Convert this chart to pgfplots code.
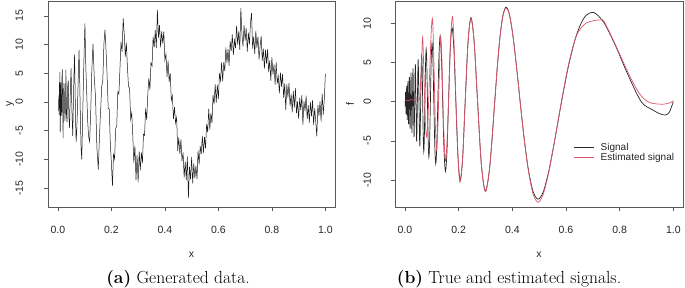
\documentclass[border=0pt]{standalone}
\usepackage{fontspec}
\usepackage{pgfplots}
\pgfplotsset{compat=1.18}
\newfontfamily\arial{Liberation Sans}
\definecolor{rred}{HTML}{DF536B}
\begin{document}
\begin{tikzpicture}
\path[use as bounding box] (0pt,0pt) rectangle (685pt,288pt);
\pgfplotsset{rbox/.style={
  scale only axis, height=206pt,
  axis line style={black!65, line width=0.6pt},
  tick align=outside, tick pos=left,
  major tick length=4.5pt,
  every tick/.style={black!65, line width=0.6pt},
  xmin=-0.037, xmax=1.036,
  xtick={0,0.2,0.4,0.6,0.8,1},
  xticklabels={0.0,0.2,0.4,0.6,0.8,1.0},
  ticklabel style={font=\arial\fontsize{10.5}{12}\selectfont, text=black!85},
  xticklabel style={anchor=north, yshift=-11pt},
  label style={font=\arial\fontsize{10.5}{12}\selectfont, text=black!85},
}}
% ---------------- left panel: generated data
\begin{axis}[rbox, at={(48pt,81pt)}, anchor=south west, width=287pt,
  ymin=-18.3, ymax=17.6,
  ytick={-15,-10,-5,0,5,10,15},
  yticklabels={-15,-10,-5,0,5,10,15},
  yticklabel style={xshift=-17pt, rotate=90, anchor=south},
  xlabel={x}, ylabel={y},
  xlabel style={at={(axis description cs:0.5,-0.23)}, anchor=center},
  ylabel style={at={(axis description cs:-0.132,0.5)}, anchor=center},
]
\addplot[black!90, line width=0.5pt] table[row sep=\\] {
x y\\
0.00244 -1.57\\ 0.00341 1.1\\ 0.00441 -2.25\\ 0.00545 3.4\\ 0.00651 -1.1\\
0.00762 5.2\\ 0.00876 -5.3\\ 0.00994 1.9\\ 0.01115 3.4\\ 0.01242 -2.4\\
0.01373 -1.6\\ 0.01508 4.2\\ 0.01649 5.7\\ 0.01795 -1.2\\ 0.01947 -6.3\\
0.02105 1.5\\ 0.02269 3.3\\ 0.02440 0.9\\ 0.02619 -3.3\\ 0.02805 -1.6\\
0.02999 5.65\\ 0.03202 -2.2\\ 0.03414 -3.5\\ 0.03636 2.6\\ 0.03869 3.7\\
0.04114 -2.7\\ 0.04371 -4.5\\ 0.04642 1.8\\ 0.04927 5.9\\ 0.05227 -1.3\\
0.05545 -5.9\\ 0.05881 2.0\\ 0.06057 5.8\\ 0.06238 8.3\\ 0.06424 2.4\\
0.06616 -3.4\\ 0.06814 -7.0\\ 0.07018 -5.3\\ 0.07230 -2.4\\ 0.07448 1.4\\
0.07673 5.3\\ 0.07906 9.1\\ 0.08147 3.9\\ 0.08397 -2.5\\ 0.08655 -8.0\\
0.08923 -10.0\\ 0.09201 -3.9\\ 0.09490 2.3\\ 0.09789 8.4\\ 0.10101 13.7\\
0.10425 6.4\\ 0.10763 1.7\\ 0.11114 -3.2\\ 0.11481 -6.0\\ 0.11863 -6.9\\
0.12263 -1.8\\ 0.12681 5.5\\ 0.13119 10.1\\ 0.13578 4.5\\ 0.14059 0.9\\
0.14565 -7.8\\ 0.15096 -11.8\\ 0.15656 -4.6\\
0.164 2.8\\ 0.168 3.8\\ 0.172 10.1\\ 0.176 12.6\\ 0.180 9.0\\
0.184 4.6\\ 0.188 -1.1\\ 0.192 -1.2\\ 0.196 -7.3\\ 0.200 -10.6\\
0.204 -14.6\\ 0.208 -9.1\\ 0.212 -9.9\\ 0.216 -4.7\\ 0.220 -4.1\\
0.224 1.8\\ 0.228 1.4\\ 0.232 5.8\\ 0.236 10.5\\ 0.240 8.7\\
0.244 14.6\\ 0.248 11.9\\ 0.252 7.9\\ 0.256 10.3\\ 0.260 6.0\\
0.264 2.7\\ 0.268 2.4\\ 0.272 -3.0\\ 0.276 -1.9\\ 0.280 -5.9\\
0.284 -10.6\\ 0.288 -7.6\\ 0.292 -13.6\\ 0.296 -9.2\\ 0.300 -14.0\\
0.304 -8.6\\ 0.308 -11.9\\ 0.312 -8.8\\ 0.316 -10.7\\ 0.320 -5.6\\
0.324 -5.8\\ 0.328 -1.1\\ 0.332 -3.1\\ 0.336 1.2\\ 0.340 4.2\\
0.344 2.1\\ 0.348 6.8\\ 0.352 6.3\\ 0.356 11.4\\ 0.360 9.5\\
0.364 12.5\\ 0.368 9.4\\ 0.372 16.1\\ 0.376 11.2\\ 0.380 13.4\\
0.384 9.5\\ 0.388 12.3\\ 0.392 10.2\\ 0.396 12.3\\ 0.400 7.3\\
0.404 8.4\\ 0.408 4.4\\ 0.412 7.2\\ 0.416 3.5\\ 0.420 5.0\\
0.424 0.3\\ 0.428 1.1\\ 0.432 -3.0\\ 0.436 -0.9\\ 0.440 -3.7\\
0.444 -2.7\\ 0.448 -8.5\\ 0.452 -6.2\\ 0.456 -9.1\\ 0.460 -6.5\\
0.464 -10.3\\ 0.468 -8.8\\ 0.472 -13.2\\ 0.476 -10.4\\ 0.480 -13.6\\
0.484 -9.5\\ 0.488 -16.7\\ 0.492 -11.3\\ 0.496 -13.5\\ 0.500 -9.6\\
0.504 -14.2\\ 0.508 -10.7\\ 0.512 -13.3\\ 0.516 -11.1\\ 0.520 -13.4\\
0.524 -8.5\\ 0.528 -10.9\\ 0.532 -7.7\\ 0.536 -9.1\\ 0.540 -5.9\\
0.544 -8.9\\ 0.548 -6.1\\ 0.552 -8.1\\ 0.556 -3.8\\ 0.560 -5.3\\
0.564 -1.2\\ 0.568 -4.8\\ 0.572 -1.9\\ 0.576 -3.7\\ 0.580 1.2\\
0.584 -0.4\\ 0.588 3.1\\ 0.592 -0.1\\ 0.596 3.0\\ 0.600 0.5\\
0.604 5.0\\ 0.608 3.7\\ 0.612 6.9\\ 0.616 3.6\\ 0.620 6.9\\
0.624 5.4\\ 0.628 9.5\\ 0.632 6.8\\ 0.636 9.2\\ 0.640 6.3\\
0.644 10.6\\ 0.648 8.9\\ 0.652 11.8\\ 0.656 8.2\\ 0.660 10.8\\
0.664 9.4\\ 0.668 13.3\\ 0.672 10.0\\ 0.676 12.3\\ 0.680 9.1\\
0.684 16.4\\ 0.688 11.8\\ 0.692 9.7\\ 0.696 13.4\\ 0.700 10.7\\
0.704 12.9\\ 0.708 8.8\\ 0.712 12.1\\ 0.716 10.0\\ 0.720 13.8\\
0.724 15.5\\ 0.728 9.3\\ 0.732 11.4\\ 0.736 8.4\\ 0.740 12.4\\
0.744 9.4\\ 0.748 11.4\\ 0.752 7.4\\ 0.756 9.7\\ 0.760 11.5\\
0.764 7.2\\ 0.768 9.3\\ 0.772 5.8\\ 0.776 9.1\\ 0.780 6.7\\
0.784 9.2\\ 0.788 5.2\\ 0.792 7.2\\ 0.796 3.7\\ 0.800 7.8\\
0.804 4.8\\ 0.808 6.5\\ 0.812 3.0\\ 0.816 7.0\\ 0.820 3.2\\
0.824 4.5\\ 0.828 1.5\\ 0.832 5.1\\ 0.836 2.7\\ 0.840 4.9\\
0.844 0.7\\ 0.848 3.2\\ 0.852 -1.4\\ 0.856 3.1\\ 0.860 0.8\\
0.864 3.3\\ 0.868 -0.7\\ 0.872 1.4\\ 0.876 -1.8\\ 0.880 1.9\\
0.884 -1.0\\ 0.888 2.4\\ 0.892 -1.9\\ 0.896 0.1\\ 0.900 -2.9\\
0.904 0.7\\ 0.908 -1.4\\ 0.912 1.2\\ 0.916 -4.0\\ 0.920 0.1\\
0.924 -1.6\\ 0.928 1.1\\ 0.932 -3.0\\ 0.936 -0.6\\ 0.940 -3.6\\
0.944 0.0\\ 0.948 -2.5\\ 0.952 0.3\\ 0.956 -4.0\\ 0.960 -1.1\\
0.964 -3.4\\ 0.968 -6.0\\ 0.972 -0.5\\ 0.976 -2.4\\ 0.980 0.1\\
0.984 -3.4\\ 0.988 1.5\\ 0.992 -2.2\\ 0.996 0.5\\ 1.000 4.9\\
};
\end{axis}
% ---------------- right panel: signals
\begin{axis}[rbox, at={(395pt,81pt)}, anchor=south west, width=288pt,
  ymin=-13.45, ymax=12.85,
  ytick={-10,-5,0,5,10},
  yticklabels={-10,-5,0,5,10},
  yticklabel style={xshift=-16pt, rotate=90, anchor=south},
  xlabel={x}, ylabel={f},
  xlabel style={at={(axis description cs:0.5,-0.23)}, anchor=center},
  ylabel style={at={(axis description cs:-0.156,0.5)}, anchor=center},
  legend style={draw=none, fill=none, at={(axis cs:0.615,-6.5)}, anchor=west,
    font=\arial\fontsize{10}{10}\selectfont, text=black!85, row sep=0pt,
    nodes={inner sep=0.8pt},
    /tikz/every odd column/.append style={column sep=6pt}},
  legend cell align=left,
  legend image code/.code={\draw[#1] (0pt,0pt) -- (20pt,0pt);},
]
\addplot[black!85, line width=0.7pt, smooth] table[row sep=\\] {
x y\\
0.00059 -0.60\\ 0.0015 0\\ 0.00244 1.23\\ 0.00341 0\\ 0.00441 -1.65\\
0.00545 0\\ 0.00651 2.00\\ 0.00762 0\\ 0.00876 -2.32\\ 0.00994 0\\
0.01115 2.61\\ 0.01242 0\\ 0.01373 -2.90\\ 0.01508 0\\ 0.01649 3.17\\
0.01795 0\\ 0.01947 -3.44\\ 0.02105 0\\ 0.02269 3.71\\ 0.02440 0\\
0.02619 -3.98\\ 0.02805 0\\ 0.02999 4.25\\ 0.03202 0\\ 0.03414 -4.52\\
0.03636 0\\ 0.03869 4.80\\ 0.04114 0\\ 0.04371 -5.09\\ 0.04642 0\\
0.04927 5.39\\ 0.05227 0\\ 0.05545 -5.70\\ 0.05881 0\\ 0.06057 4.20\\
0.06238 6.02\\ 0.06424 4.32\\ 0.06616 0\\ 0.06814 -4.44\\ 0.07018 -6.36\\
0.07230 -4.56\\ 0.07448 0\\ 0.07673 4.69\\ 0.07906 6.72\\ 0.08147 4.82\\
0.08397 0\\ 0.08655 -4.95\\ 0.08923 -7.10\\ 0.09201 -5.09\\ 0.09490 0\\
0.09789 5.23\\ 0.10101 7.50\\ 0.10425 5.38\\ 0.10763 0\\ 0.11114 -5.53\\
0.11481 -7.94\\ 0.11863 -5.69\\ 0.12263 0\\ 0.12681 5.86\\ 0.13119 8.41\\
0.13578 6.03\\ 0.14059 0\\ 0.14565 -6.21\\ 0.15096 -8.91\\ 0.15656 -6.40\\
0.16246 0\\ 0.16870 6.59\\ 0.17529 9.47\\ 0.18228 6.80\\ 0.18969 0\\
0.19758 -7.01\\ 0.20597 -10.07\\ 0.21493 -7.23\\ 0.22452 0\\ 0.23480 7.46\\
0.24585 10.72\\ 0.25776 7.70\\ 0.27063 0\\ 0.28459 -7.95\\ 0.29979 -11.41\\
0.31638 -8.19\\ 0.33458 0\\ 0.34436 4.53\\ 0.35463 8.42\\ 0.36544 11.08\\
0.37683 12.07\\ 0.38884 11.21\\ 0.40154 8.63\\ 0.41497 4.70\\ 0.42921 0\\
0.44433 -4.74\\ 0.46041 -8.78\\ 0.47755 -11.49\\ 0.49586 -12.45\\ 0.51546 -11.50\\
0.53649 -8.78\\ 0.55912 -4.73\\ 0.58353 0\\ 0.60995 4.65\\ 0.63863 8.46\\
0.66987 10.82\\ 0.70404 11.37\\ 0.74157 10.07\\ 0.78298 7.26\\ 0.82889 3.59\\
0.88010 0\\ 0.92 -1.0\\ 0.95 -1.55\\ 0.97 -1.71\\ 0.985 -1.35\\ 1.0 0\\
};
\addlegendentry{Signal}
\addplot[rred, line width=0.7pt, smooth] table[row sep=\\] {
x y\\
0.003 0.2\\ 0.012 0.1\\ 0.022 0.25\\ 0.032 0.2\\ 0.042 0.3\\
0.050 0.3\\ 0.055 0.5\\ 0.060 3.5\\ 0.066 8.2\\ 0.071 3.0\\
0.076 -2.5\\ 0.081 -4.5\\ 0.086 -2.0\\ 0.092 3.5\\ 0.098 9.0\\
0.103 10.5\\ 0.108 5.0\\ 0.113 -2.5\\ 0.118 -6.2\\ 0.123 -3.0\\
0.128 3.5\\ 0.133 8.3\\ 0.138 5.0\\ 0.144 -3.0\\ 0.151 -7.6\\
0.157 -5.0\\ 0.163 0.5\\ 0.170 7.8\\ 0.177 10.85\\ 0.183 7.5\\
0.190 0\\ 0.198 -7.2\\ 0.205 -10.3\\ 0.21493 -7.23\\ 0.22452 0\\
0.23480 7.46\\ 0.24585 10.6\\ 0.25776 7.70\\ 0.27063 0\\ 0.28459 -7.95\\
0.29979 -11.5\\ 0.31638 -8.19\\ 0.33458 0\\ 0.34436 4.53\\ 0.35463 8.42\\
0.36544 11.0\\ 0.37683 11.95\\ 0.38884 11.15\\ 0.40154 8.63\\ 0.41497 4.70\\
0.42921 0\\ 0.44433 -4.8\\ 0.46041 -8.9\\ 0.47755 -11.8\\ 0.49586 -12.85\\
0.51546 -11.8\\ 0.53649 -8.9\\ 0.55912 -4.7\\ 0.58353 0.1\\ 0.60995 4.8\\
0.63863 8.4\\ 0.66987 9.9\\ 0.70404 10.35\\ 0.72600 10.42\\ 0.74157 10.25\\
0.78298 7.35\\ 0.82889 3.9\\ 0.86 1.8\\ 0.88 0.75\\ 0.90 0.1\\
0.92 -0.2\\ 0.94 -0.3\\ 0.963 -0.32\\ 0.98 -0.22\\ 0.99 -0.1\\ 1.0 0.1\\
};
\addlegendentry{Estimated signal}
\end{axis}
\node[anchor=base, font=\fontsize{17.5}{19}\selectfont] at (178pt,4.7pt) {\textbf{(a)} Generated data.};
\node[anchor=base, font=\fontsize{17.5}{19}\selectfont] at (509pt,4.7pt) {\textbf{(b)} True and estimated signals.};
\end{tikzpicture}
\end{document}
